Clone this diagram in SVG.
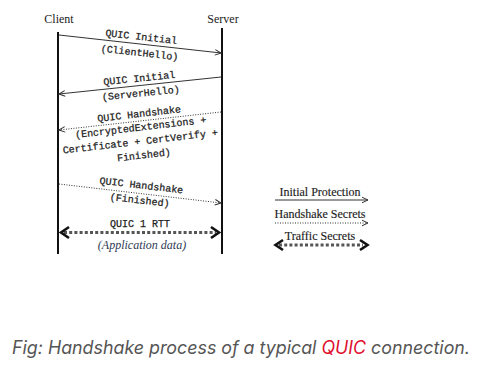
<svg xmlns="http://www.w3.org/2000/svg" width="485" height="368" viewBox="0 0 485 368">
<defs>
<style>
.hdr{font-family:"Liberation Serif",serif;font-size:12px;fill:#222}
.mono{font-family:"Liberation Mono",monospace;font-size:10px;fill:#222;stroke:#222;stroke-width:0.25;text-anchor:middle}
.leg{font-family:"Liberation Serif",serif;font-size:12px;fill:#222;stroke:#222;stroke-width:0.15;text-anchor:middle}
.life{stroke:#111;stroke-width:2;fill:none}
.solid{stroke:#333;stroke-width:1;fill:none}
.dot{stroke:#333;stroke-width:1;stroke-dasharray:1 1.5;fill:none}
.thick{stroke:#555;stroke-width:3;stroke-dasharray:3 2.2;fill:none}
.head{stroke:#111;stroke-width:2.6;fill:none;stroke-linejoin:miter}
</style>
<marker id="open" viewBox="0 0 8 8" refX="7" refY="4" markerWidth="8" markerHeight="8" markerUnits="userSpaceOnUse" orient="auto">
<path d="M1,1.2 L7,4 L1,6.8" fill="none" stroke="#333" stroke-width="1"/>
</marker>
</defs>
<rect width="485" height="368" fill="#fff"/>

<g id="client">
<text class="hdr" x="59" y="23" text-anchor="middle">Client</text>
<line class="life" x1="58" y1="32" x2="58" y2="254"/>
</g>
<g id="server">
<text class="hdr" x="223" y="23" text-anchor="middle">Server</text>
<line class="life" x1="222" y1="28" x2="222" y2="254"/>
</g>

<g id="connectors">
<line class="solid" x1="59" y1="35" x2="221" y2="53" marker-end="url(#open)"/>
<line class="solid" x1="221" y1="77" x2="59" y2="94" marker-end="url(#open)"/>
<line class="dot" x1="221" y1="112" x2="59" y2="130" marker-end="url(#open)"/>
<line class="dot" x1="59" y1="184" x2="221" y2="203" marker-end="url(#open)"/>
<line class="thick" x1="64" y1="232.5" x2="216" y2="232.5"/>
<path class="head" d="M69,227 L61,232.5 L69,238"/>
<path class="head" d="M211,227 L219,232.5 L211,238"/>
</g>

<g id="msg1" transform="translate(140.5,44) rotate(6.3)">
<text class="mono" x="0" y="-4">QUIC Initial</text>
<text class="mono" x="0" y="12">(ClientHello)</text>
</g>
<g id="msg2" transform="translate(140,85.5) rotate(-5.9)">
<text class="mono" x="0" y="-4">QUIC Initial</text>
<text class="mono" x="0" y="11">(ServerHello)</text>
</g>
<g id="msg3" transform="translate(140,121.5) rotate(-6.6)">
<text class="mono" x="0" y="-4.5">QUIC Handshake</text>
<text class="mono" x="0" y="9">(EncryptedExtensions +</text>
<text class="mono" x="-2" y="23">Certificate + CertVerify +</text>
<text class="mono" x="0" y="37">Finished)</text>
</g>
<g id="msg4" transform="translate(140.5,193.5) rotate(6.6)">
<text class="mono" x="0" y="-5">QUIC Handshake</text>
<text class="mono" x="0" y="10">(Finished)</text>
</g>
<g id="msg5">
<text class="mono" x="140" y="227">QUIC 1 RTT</text>
<text x="142" y="249" text-anchor="middle" font-family="Liberation Serif, serif" font-style="italic" font-size="12" fill="#2e3a55">(Application data)</text>
</g>

<g id="legend">
<text class="leg" x="320" y="196">Initial Protection</text>
<line class="solid" x1="275" y1="200" x2="368" y2="200" marker-end="url(#open)"/>
<text class="leg" x="320" y="218">Handshake Secrets</text>
<line class="dot" x1="275" y1="223" x2="368" y2="223" marker-end="url(#open)"/>
<text class="leg" x="320" y="240">Traffic Secrets</text>
<line class="thick" x1="279" y1="245" x2="363" y2="245"/>
<path class="head" d="M283,240 L275.5,245 L283,250"/>
<path class="head" d="M360,240 L367.5,245 L360,250"/>
</g>

<g id="caption">
<text x="12" y="354" font-family="Inter, 'Liberation Sans', sans-serif" font-style="italic" font-size="18" fill="#555" textLength="458" lengthAdjust="spacingAndGlyphs">Fig: Handshake process of a typical <tspan fill="#e0112f">QUIC</tspan> connection.</text>
</g>
</svg>
